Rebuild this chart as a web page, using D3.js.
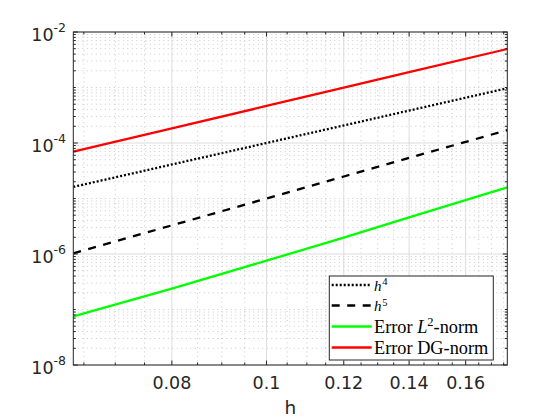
<!DOCTYPE html>
<html>
<head>
<meta charset="utf-8">
<script src="https://cdn.jsdelivr.net/npm/d3@7/dist/d3.min.js"></script>
<style>
  html, body { margin: 0; padding: 0; background: #ffffff; }
  svg { display: block; }
</style>
</head>
<body>
<script>
// ---------------- data ----------------
const hValues   = [0.0634, 0.08, 0.1, 0.12, 0.14, 0.1765];
const refH4     = [1.62e-5, 4.10e-5, 1.0e-4, 2.07e-4, 3.84e-4, 9.7e-4];
const refH5     = [1.03e-6, 3.28e-6, 1.0e-5, 2.49e-5, 5.38e-5, 1.71e-4];
const errL2     = [7.5e-8, 2.37e-7, 7.57e-7, 1.97e-6, 4.56e-6, 1.59e-5];
const errDG     = [6.97e-5, 1.83e-4, 4.65e-4, 9.9e-4, 1.89e-3, 4.94e-3];

const xDomain   = [0.0634, 0.1765];
const yDomain   = [1e-8, 1e-2];
const xTickVals = [0.08, 0.1, 0.12, 0.14, 0.16];
const xTickLbls = ["0.08", "0.1", "0.12", "0.14", "0.16"];
const yTickVals = [1e-8, 1e-6, 1e-4, 1e-2];
const yTickExps = ["-8", "-6", "-4", "-2"];
const xLabel    = "h";

// ---------------- layout ----------------
const W = 560, H = 420;
const L = 73.3, R = 507.3, T = 32, B = 365;
const axisColor = "#262626";

const svg = d3.select("body").append("svg")
  .attr("width", W).attr("height", H)
  .style("font-family", "'DejaVu Sans', sans-serif");

svg.append("rect").attr("width", W).attr("height", H).attr("fill", "#fff");

const x = d3.scaleLog().domain(xDomain).range([L, R]);
const y = d3.scaleLog().domain(yDomain).range([B, T]);

// minor tick values
const xMinor = d3.range(13, 36).map(i => i * 0.005)
  .filter(v => v > xDomain[0] && v < xDomain[1])
  .filter(v => !xTickVals.some(t => Math.abs(t - v) < 1e-9));
const yMinor = [];
for (let k = -8; k <= -3; k++) {
  for (let m = 1; m <= 9; m++) {
    const v = m * Math.pow(10, k);
    if (!yTickVals.some(t => Math.abs(Math.log10(t) - Math.log10(v)) < 1e-9)) yMinor.push(v);
  }
}

// ---------------- grid ----------------
const grid = svg.append("g");
grid.selectAll(".xmg").data(xMinor).join("line")
  .attr("x1", d => x(d)).attr("x2", d => x(d)).attr("y1", T).attr("y2", B)
  .attr("stroke", "#bdbdbd").attr("stroke-width", 0.8).attr("stroke-dasharray", "1,3.5");
grid.selectAll(".ymg").data(yMinor).join("line")
  .attr("y1", d => y(d)).attr("y2", d => y(d)).attr("x1", L).attr("x2", R)
  .attr("stroke", "#bdbdbd").attr("stroke-width", 0.8).attr("stroke-dasharray", "1,3.5");
grid.selectAll(".xg").data(xTickVals).join("line")
  .attr("x1", d => x(d)).attr("x2", d => x(d)).attr("y1", T).attr("y2", B)
  .attr("stroke", "#dcdcdc").attr("stroke-width", 1);
grid.selectAll(".yg").data(yTickVals).join("line")
  .attr("y1", d => y(d)).attr("y2", d => y(d)).attr("x1", L).attr("x2", R)
  .attr("stroke", "#dcdcdc").attr("stroke-width", 1);

// ---------------- series ----------------
svg.append("clipPath").attr("id", "clip").append("rect")
  .attr("x", L).attr("y", T).attr("width", R - L).attr("height", B - T);

const series = [
  { vals: refH4, color: "#000", dash: "2,2" },
  { vals: refH5, color: "#000", dash: "8,7.5" },
  { vals: errL2, color: "#00ff00", dash: null },
  { vals: errDG, color: "#ff0000", dash: null }
];
const line = d3.line().x(d => x(d[0])).y(d => y(d[1]));
const plot = svg.append("g").attr("clip-path", "url(#clip)");
series.forEach(s => {
  plot.append("path")
    .datum(hValues.map((h, i) => [h, s.vals[i]]))
    .attr("d", line)
    .attr("fill", "none")
    .attr("stroke", s.color)
    .attr("stroke-width", 2.3)
    .attr("stroke-dasharray", s.dash);
});

// ---------------- axes box & ticks ----------------
const ax = svg.append("g").attr("stroke", axisColor).attr("stroke-width", 1);
ax.append("rect").attr("x", L).attr("y", T).attr("width", R - L).attr("height", B - T)
  .attr("fill", "none");
const majLen = 4.5, minLen = 2.5;
[[xTickVals, majLen], [xMinor, minLen]].forEach(([vals, len]) => {
  ax.selectAll(null).data(vals).join("line")
    .attr("x1", d => x(d)).attr("x2", d => x(d)).attr("y1", B).attr("y2", B - len);
  ax.selectAll(null).data(vals).join("line")
    .attr("x1", d => x(d)).attr("x2", d => x(d)).attr("y1", T).attr("y2", T + len);
});
[[yTickVals, majLen], [yMinor, minLen]].forEach(([vals, len]) => {
  ax.selectAll(null).data(vals).join("line")
    .attr("y1", d => y(d)).attr("y2", d => y(d)).attr("x1", L).attr("x2", L + len);
  ax.selectAll(null).data(vals).join("line")
    .attr("y1", d => y(d)).attr("y2", d => y(d)).attr("x1", R).attr("x2", R - len);
});

// tick labels
svg.selectAll(".xtl").data(xTickVals).join("text")
  .attr("x", d => x(d)).attr("y", 389)
  .attr("text-anchor", "middle").attr("font-size", 17.5).attr("fill", axisColor)
  .text((d, i) => xTickLbls[i]);

yTickVals.forEach((v, i) => {
  const t = svg.append("text")
    .attr("x", 66).attr("y", y(v) + 8.7)
    .attr("text-anchor", "end").attr("fill", axisColor);
  t.append("tspan").attr("font-size", 17.5).text("10");
  t.append("tspan").attr("font-size", 12.5).attr("dy", -8.7).text(yTickExps[i]);
});

svg.append("text").attr("x", (L + R) / 2).attr("y", 414)
  .attr("text-anchor", "middle").attr("font-size", 18.5).attr("fill", axisColor)
  .text(xLabel);

// ---------------- legend ----------------
const lg = svg.append("g");
lg.append("rect").attr("x", 329.3).attr("y", 276).attr("width", 164).attr("height", 84)
  .attr("fill", "#fff").attr("stroke", axisColor).attr("stroke-width", 1);
const rowsY = [285, 305.5, 326.5, 347.5];
const serif = "'Liberation Serif', 'Times New Roman', serif";
series.forEach((s, i) => {
  lg.append("line").attr("x1", 331.7).attr("x2", 371.7)
    .attr("y1", rowsY[i]).attr("y2", rowsY[i])
    .attr("stroke", s.color).attr("stroke-width", 2.3).attr("stroke-dasharray", s.dash);
});
function hEntry(row, exp) {
  const t = lg.append("text").attr("x", 374).attr("y", row + 5.5)
    .style("font-family", serif).attr("fill", "#000");
  t.append("tspan").attr("font-size", 15).attr("font-style", "italic").text("h");
  t.append("tspan").attr("font-size", 10.5).attr("dy", -5.5).attr("dx", 0.8).text(exp);
}
hEntry(rowsY[0], "4");
hEntry(rowsY[1], "5");
{
  const t = lg.append("text").attr("x", 374).attr("y", rowsY[2] + 6.5)
    .style("font-family", serif).attr("fill", "#000").attr("font-size", 18.3);
  t.append("tspan").text("Error ");
  t.append("tspan").attr("font-style", "italic").text("L");
  t.append("tspan").attr("font-size", 12.5).attr("dy", -7).text("2");
  t.append("tspan").attr("dy", 7).text("-norm");
}
lg.append("text").attr("x", 374).attr("y", rowsY[3] + 6.5)
  .style("font-family", serif).attr("fill", "#000").attr("font-size", 18.3)
  .text("Error DG-norm");
</script>
</body>
</html>
